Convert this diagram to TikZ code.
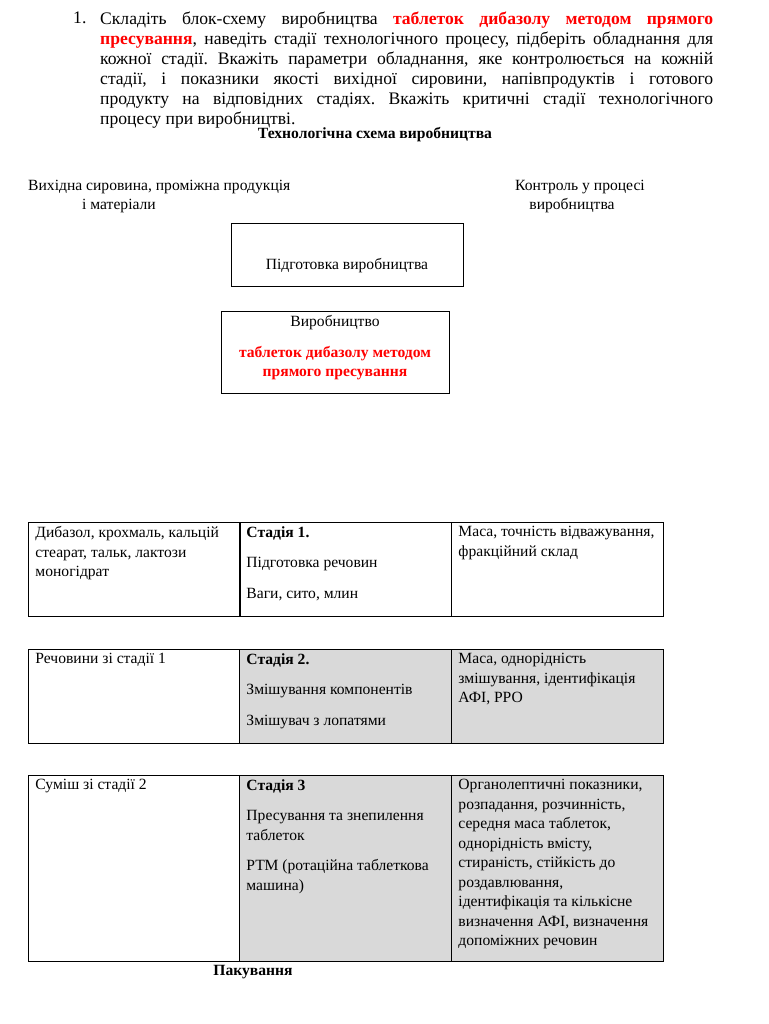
\documentclass[tikz,border=0pt]{standalone}
\usepackage{fontspec}
\setmainfont{Liberation Serif}
\usetikzlibrary{positioning}
\definecolor{gris}{HTML}{D9D9D9}
\newcommand{\contenu}[2]{\parbox[t][#1][t]{198pt}{\raggedright #2}}
\tikzstyle{texte}=[inner sep=0pt,font=\fontsize{15.6}{20}\selectfont]
\tikzstyle{gras}=[texte,font=\fontsize{15.6}{20}\selectfont\bfseries]
\tikzstyle{cadre}=[rectangle,draw,line width=0.9pt,inner sep=0pt]
\tikzstyle{case}=[rectangle,draw,line width=0.9pt,anchor=north west,
inner xsep=7pt,inner ysep=4pt,minimum width=211pt,
font=\fontsize{15.6}{19.5}\selectfont]
\tikzstyle{case1}=[case,fill=gris]

\begin{document}
\begin{tikzpicture}[x=1pt,y=-1pt]
      \useasboundingbox (0,0) rectangle (768,1024);
      % consigne
      \node[texte,anchor=base west,font=\fontsize{17.6}{20}\selectfont] (num) at (73,24) {1.};
      \node[texte,anchor=north west,text width=613pt,align=justify,font=\fontsize{17.6}{20}\selectfont] (consigne) at (100,12)
      {\frenchspacing\exhyphenpenalty=10000 Складіть блок-схему виробництва \textcolor{red}{\textbf{таблеток дибазолу методом прямого}}\linebreak
      \textcolor{red}{\textbf{пресування}}, наведіть стадії технологічного процесу, підберіть обладнання для\linebreak
      кожної стадії. Вкажіть параметри обладнання, яке контролюється на кожній\linebreak
      стадії, і показники якості вихідної сировини, напівпродуктів і готового\linebreak
      продукту на відповідних стадіях. Вкажіть критичні стадії технологічного\linebreak
      процесу при виробництві.};
      \node[gras,anchor=base] (titre) at (375,139) {Технологічна схема виробництва};
      % en-tetes
      \node[texte,anchor=base west] (mat1) at (28,191) {Вихідна сировина, проміжна продукція};
      \node[texte,anchor=base west] (mat2) at (82,210) {і матеріали};
      \node[texte,anchor=base] (ctrl1) at (580,191) {Контроль у процесі};
      \node[texte,anchor=base] (ctrl2) at (572,210) {виробництва};
      % blocs
      \node[cadre,minimum width=232pt,minimum height=63pt] (prep) at (347,254.5) {};
      \node[texte,anchor=base] (prept) at (347,269) {Підготовка виробництва};
      \node[cadre,minimum width=228pt,minimum height=82pt] (prod) at (335,352) {};
      \node[texte,anchor=base] (prodt) at (335,326) {Виробництво};
      \node[gras,anchor=base,text=red] (prodr1) at (335,357) {таблеток дибазолу методом};
      \node[gras,anchor=base,text=red] (prodr2) at (335,376) {прямого пресування};
      % stade 1
      \node[case] (A1) at (28,522) {\contenu{86pt}{Дибазол, крохмаль, кальцій\\стеарат, тальк, лактози\\моногідрат}};
      \node[case] (B1) at (239,522) {\contenu{86pt}{\textbf{Стадія 1.}\\[11pt]Підготовка речовин\\[11pt]Ваги, сито, млин}};
      \node[case,minimum width=212pt] (C1) at (451,522) {\contenu{86pt}{Маса, точність відважування,\\фракційний склад}};
      % stade 2
      \node[case] (A2) at (28,649) {\contenu{86pt}{Речовини зі стадії 1}};
      \node[case1] (B2) at (239,649) {\contenu{86pt}{\textbf{Стадія 2.}\\[11pt]Змішування компонентів\\[11pt]Змішувач з лопатями}};
      \node[case1,minimum width=212pt] (C2) at (451,649) {\contenu{86pt}{Маса, однорідність\\змішування, ідентифікація\\АФІ, РРО}};
      % stade 3
      \node[case] (A3) at (28,775) {\contenu{178pt}{Суміш зі стадії 2}};
      \node[case1] (B3) at (239,775) {\contenu{178pt}{\textbf{Стадія 3}\\[11pt]Пресування та знепилення\\таблеток\\[11pt]РТМ (ротаційна таблеткова\\машина)}};
      \node[case1,minimum width=212pt] (C3) at (451,775) {\contenu{178pt}{Органолептичні показники,\\розпадання, розчинність,\\середня маса таблеток,\\однорідність вмісту,\\стираність, стійкість до\\роздавлювання,\\ідентифікація та кількісне\\визначення АФІ, визначення\\допоміжних речовин}};
      \node[gras,anchor=base] (pack) at (253,975) {Пакування};
\end{tikzpicture}
\end{document}
